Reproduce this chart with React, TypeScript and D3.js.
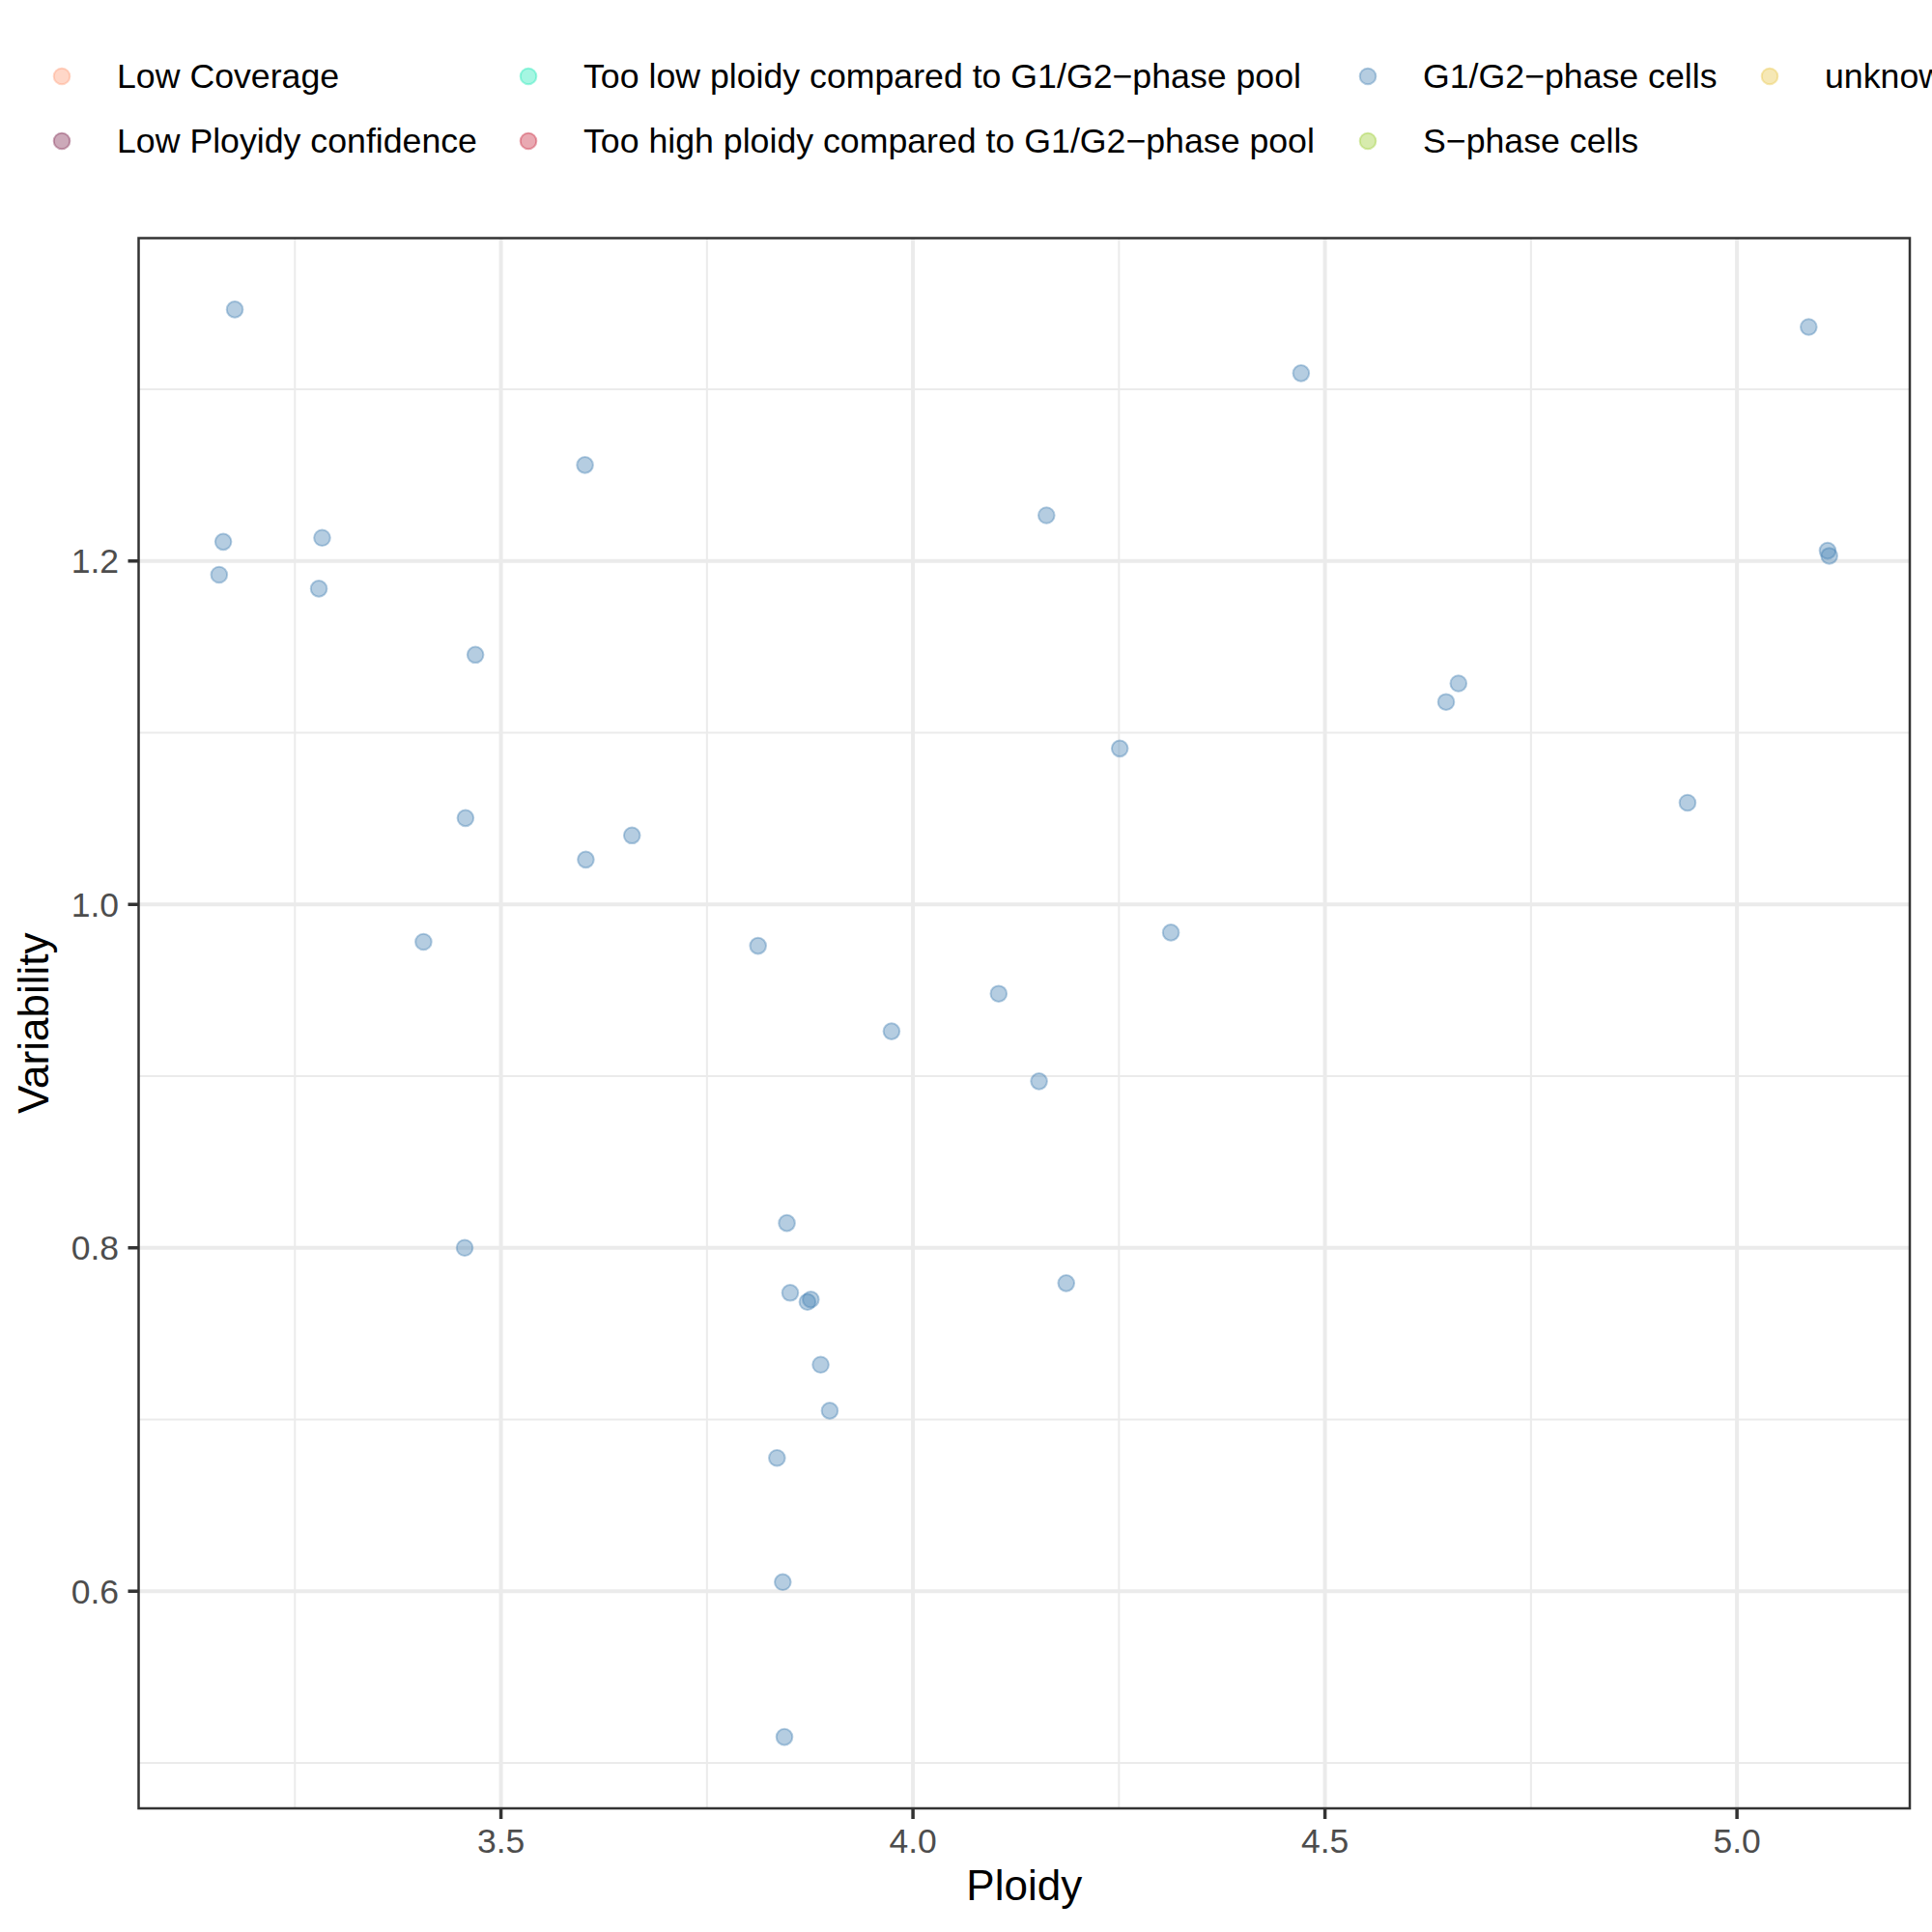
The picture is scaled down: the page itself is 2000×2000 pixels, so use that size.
import React from "react";
import * as d3 from "d3";

const ploidy = [
  3.177, 5.087, 4.471, 3.602, 4.162, 3.163, 3.283, 3.158, 3.279, 5.110, 5.112, 3.469,
  4.662, 4.647, 4.251, 4.940, 3.457, 3.659, 3.603, 3.406, 4.313, 3.812, 4.104, 3.974,
  4.153, 3.847, 3.456, 4.186, 3.851, 3.876, 3.872, 3.888, 3.899, 3.835, 3.842, 3.844,
];
const variability = [
  1.3465, 1.3363, 1.3094, 1.2559, 1.2266, 1.2112, 1.2135, 1.192, 1.1839, 1.206, 1.203, 1.1454,
  1.1287, 1.1179, 1.0908, 1.0592, 1.0503, 1.0402, 1.0261, 0.9782, 0.9836, 0.9759, 0.948, 0.9261,
  0.897, 0.8144, 0.8, 0.7794, 0.7738, 0.7699, 0.7685, 0.7319, 0.7051, 0.6776, 0.6053, 0.5151,
];

const legendLabels = [
  "Low Coverage",
  "Low Ployidy confidence",
  "Too low ploidy compared to G1/G2\u2212phase pool",
  "Too high ploidy compared to G1/G2\u2212phase pool",
  "G1/G2\u2212phase cells",
  "S\u2212phase cells",
  "unknown",
];
const legendColors = ["#FF9A76", "#80284F", "#1DE9B6", "#C9283E", "#4682B4", "#9ACD32", "#E8C547"];
const pointColor = "#4682B4";

const xMajor = [3.5, 4.0, 4.5, 5.0];
const xMinor = [3.25, 3.75, 4.25, 4.75];
const yMajor = [0.6, 0.8, 1.0, 1.2];
const yMinor = [0.5, 0.7, 0.9, 1.1, 1.3];

const W = 2000;
const H = 2000;
const panel = { left: 143.5, right: 1977, top: 246.5, bottom: 1872 };
const FONT = "'Liberation Sans', Arial, Helvetica, sans-serif";

function expand(ext: [number, number]): [number, number] {
  const r = ext[1] - ext[0];
  return [ext[0] - 0.05 * r, ext[1] + 0.05 * r];
}

export default function App() {
  const x = d3
    .scaleLinear()
    .domain(expand(d3.extent(ploidy) as [number, number]))
    .range([panel.left, panel.right]);
  const y = d3
    .scaleLinear()
    .domain(expand(d3.extent(variability) as [number, number]))
    .range([panel.bottom, panel.top]);

  const legendColX = [64, 547, 1416, 1832];
  const legendRowY = [79, 146];
  const R = 8.3;

  return (
    <svg
      width={W}
      height={H}
      viewBox={`0 0 ${W} ${H}`}
      style={{ position: "absolute", left: 0, top: 0, display: "block", background: "#fff" }}
      fontFamily={FONT}
    >
      <rect x={0} y={0} width={W} height={H} fill="#fff" />
      {/* legend */}
      {legendLabels.map((lab, i) => {
        const col = Math.floor(i / 2);
        const row = i % 2;
        const cx = legendColX[col];
        const cy = legendRowY[row];
        return (
          <g key={lab}>
            <circle
              cx={cx}
              cy={cy}
              r={R}
              fill={legendColors[i]}
              fillOpacity={0.4}
              stroke={legendColors[i]}
              strokeOpacity={0.4}
              strokeWidth={2}
            />
            <text x={cx + 57} y={cy + 12} fontSize={35.7} fill="#000">
              {lab}
            </text>
          </g>
        );
      })}

      {/* panel background */}
      <rect
        x={panel.left}
        y={panel.top}
        width={panel.right - panel.left}
        height={panel.bottom - panel.top}
        fill="#fff"
      />
      {/* minor grid */}
      {xMinor.map((v) => (
        <line key={"xm" + v} x1={x(v)} x2={x(v)} y1={panel.top} y2={panel.bottom} stroke="#EBEBEB" strokeWidth={2} />
      ))}
      {yMinor.map((v) => (
        <line key={"ym" + v} x1={panel.left} x2={panel.right} y1={y(v)} y2={y(v)} stroke="#EBEBEB" strokeWidth={2} />
      ))}
      {/* major grid */}
      {xMajor.map((v) => (
        <line key={"xM" + v} x1={x(v)} x2={x(v)} y1={panel.top} y2={panel.bottom} stroke="#EBEBEB" strokeWidth={4} />
      ))}
      {yMajor.map((v) => (
        <line key={"yM" + v} x1={panel.left} x2={panel.right} y1={y(v)} y2={y(v)} stroke="#EBEBEB" strokeWidth={4} />
      ))}

      {/* points */}
      {ploidy.map((p, i) => (
        <circle
          key={"pt" + i}
          cx={x(p)}
          cy={y(variability[i])}
          r={R}
          fill={pointColor}
          fillOpacity={0.4}
          stroke={pointColor}
          strokeOpacity={0.4}
          strokeWidth={2}
        />
      ))}

      {/* border */}
      <rect
        x={panel.left}
        y={panel.top}
        width={panel.right - panel.left}
        height={panel.bottom - panel.top}
        fill="none"
        stroke="#333333"
        strokeWidth={2.5}
      />

      {/* x axis ticks */}
      {xMajor.map((v) => (
        <g key={"xt" + v}>
          <line x1={x(v)} x2={x(v)} y1={panel.bottom} y2={panel.bottom + 11} stroke="#333333" strokeWidth={3.5} />
          <text x={x(v)} y={1918} fontSize={35.5} fill="#4D4D4D" textAnchor="middle">
            {v.toFixed(1)}
          </text>
        </g>
      ))}
      {/* y axis ticks */}
      {yMajor.map((v) => (
        <g key={"yt" + v}>
          <line x1={panel.left - 11} x2={panel.left} y1={y(v)} y2={y(v)} stroke="#333333" strokeWidth={3.5} />
          <text x={123} y={y(v) + 12.5} fontSize={35.5} fill="#4D4D4D" textAnchor="end">
            {v.toFixed(1)}
          </text>
        </g>
      ))}

      {/* axis titles */}
      <text x={(panel.left + panel.right) / 2} y={1967} fontSize={44} fill="#000" textAnchor="middle">
        Ploidy
      </text>
      <text
        transform={`translate(50, ${(panel.top + panel.bottom) / 2}) rotate(-90)`}
        fontSize={44}
        fill="#000"
        textAnchor="middle"
      >
        Variability
      </text>
    </svg>
  );
}
